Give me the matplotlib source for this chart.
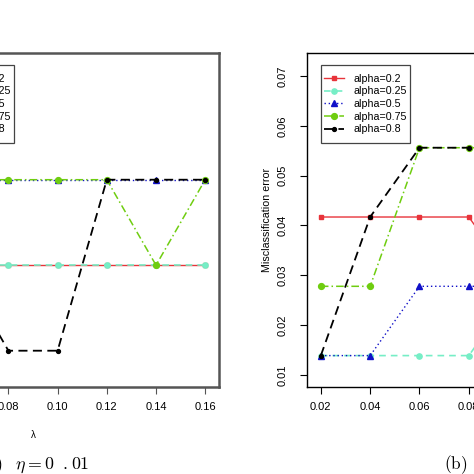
import matplotlib
matplotlib.use("Agg")
import matplotlib.pyplot as plt
from matplotlib.path import Path

plt.rcParams['font.family'] = ['Liberation Sans', 'DejaVu Sans']
plt.rcParams['mathtext.fontset'] = 'cm'

# lambda grid used in both panels
lam = [0.02, 0.04, 0.06, 0.08, 0.10, 0.12, 0.14, 0.16]
labels = ['alpha=0.2', 'alpha=0.25', 'alpha=0.5', 'alpha=0.75', 'alpha=0.8']

# panel (a), eta = 0.01 (only lambda >= 0.08 is visible in the crop)
a_02 = [0.0278, 0.0278, 0.0278, 0.0278, 0.0278, 0.0278, 0.0278, 0.0278]
a_025 = [0.0278, 0.0278, 0.0278, 0.0278, 0.0278, 0.0278, 0.0278, 0.0278]
a_05 = [0.0417, 0.0417, 0.0417, 0.0417, 0.0417, 0.0417, 0.0417, 0.0417]
a_075 = [0.0417, 0.0417, 0.0417, 0.0417, 0.0417, 0.0417, 0.0278, 0.0417]
a_08 = [0.0278, 0.0278, 0.0278, 0.0139, 0.0139, 0.0417, 0.0417, 0.0417]

# panel (b)
b_02 = [0.0417, 0.0417, 0.0417, 0.0417, 0.0278, 0.0278, 0.0278, 0.0278]
b_025 = [0.0139, 0.0139, 0.0139, 0.0139, 0.0278, 0.0278, 0.0278, 0.0278]
b_05 = [0.0139, 0.0139, 0.0278, 0.0278, 0.0278, 0.0278, 0.0278, 0.0278]
b_075 = [0.0278, 0.0278, 0.0556, 0.0556, 0.0556, 0.0556, 0.0556, 0.0556]
b_08 = [0.0139, 0.0417, 0.0556, 0.0556, 0.0556, 0.0556, 0.0556, 0.0556]

styles = [
    dict(color='#e8333a', ls='-', marker='s', ms=3.0, lw=1.0),
    dict(color='#76eec6', ls=(0, (4, 3)), marker='o', ms=3.8, lw=1.2),
    dict(color='#1010c8', ls=(0, (1, 2)), marker='^', ms=4.3, lw=1.0),
    dict(color='#6fcd10', ls=(0, (5, 2, 1, 2)), marker='o', ms=4.2, lw=1.1),
    dict(color='black', ls=(0, (5, 3)), marker='o', ms=2.8, lw=1.3),
]

W = H = 474
VPAD = 6  # extra vertical room in the legend frame (R style box), pixels
fig = plt.figure(figsize=(W / 100, H / 100), dpi=100)

def frac(px_left, px_top, px_w, px_h):
    return [px_left / W, (H - px_top - px_h) / H, px_w / W, px_h / H]

def tall_box(x0, y0, width, height, mutation_size):
    pts = [(x0, y0 - VPAD), (x0 + width, y0 - VPAD), (x0 + width, y0 + height + VPAD),
           (x0, y0 + height + VPAD), (x0, y0 - VPAD)]
    return Path(pts, closed=True)

ax1 = fig.add_axes(frac(-153, 53, 372, 334))
ax2 = fig.add_axes(frac(307, 53, 373, 334))

def draw(ax, series, ylim, frame_color, frame_w, leg_anchor, leg_loc):
    for ys, st, lab in zip(series, styles, labels):
        ax.plot(lam, ys, label=lab, **st)
    ax.set_xlim(0.0144, 0.1656)
    ax.set_ylim(*ylim)
    ax.set_xticks([0.02, 0.04, 0.06, 0.08, 0.10, 0.12, 0.14, 0.16])
    ax.set_xticklabels(['0.02', '0.04', '0.06', '0.08', '0.10', '0.12', '0.14', '0.16'])
    for s in ax.spines.values():
        s.set_color(frame_color)
        s.set_linewidth(frame_w)
    ax.tick_params(length=5, width=0.8, color=frame_color, labelsize=8)
    ax.tick_params(axis='x', pad=6)
    ax.tick_params(axis='y', pad=9)
    ax.set_xlabel('λ', fontsize=7, labelpad=13)
    leg = ax.legend(loc=leg_loc, bbox_to_anchor=leg_anchor, borderaxespad=0,
                    fontsize=7.7, fancybox=False, framealpha=1, edgecolor='#444444',
                    handlelength=1.87, handletextpad=0.93, labelspacing=0.25,
                    borderpad=0.25, markerscale=1.0)
    leg.get_frame().set_boxstyle(tall_box)
    leg.get_frame().set_linewidth(0.9)

top = 1 - (12 + VPAD) / 334
draw(ax1, [a_02, a_025, a_05, a_075, a_08], (0.0080, 0.0623), '#555555', 1.8,
     ((14 + 153) / 372, top), 'upper right')
draw(ax2, [b_02, b_025, b_05, b_075, b_08], (0.0076, 0.0746), 'black', 1.0,
     (14 / 373, top), 'upper left')

ax2.set_yticks([0.01, 0.02, 0.03, 0.04, 0.05, 0.06, 0.07])
ax2.set_yticklabels(['0.01', '0.02', '0.03', '0.04', '0.05', '0.06', '0.07'], rotation=90, va='center')
ax2.set_ylabel('Misclassification error', fontsize=7.7, labelpad=4)

fig.text(89 / W, 1 - 465 / H, r'$(\mathrm{a})\;\;\;\eta = 0\;\ .01$', fontsize=12.8,
         ha='right', va='center')
fig.text(444 / W, 1 - 465 / H, r'$(\mathrm{b})$', fontsize=12.5, ha='left', va='center')

fig.savefig('out.png', dpi=100)
